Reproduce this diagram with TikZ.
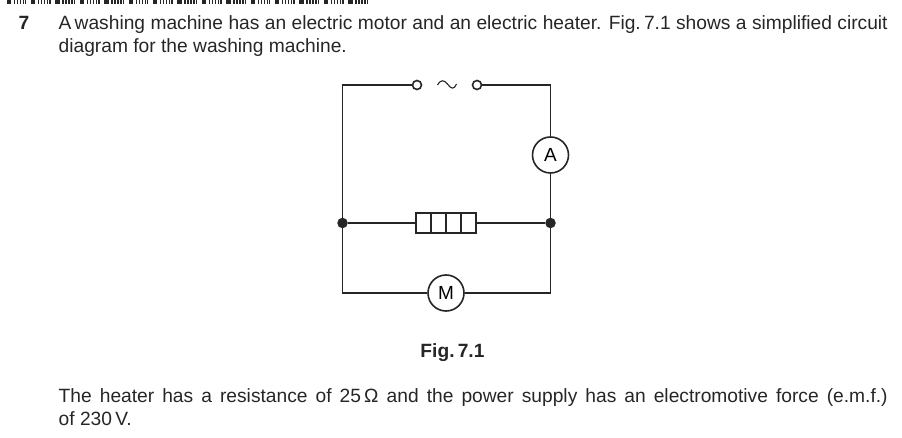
\documentclass[tikz,border=0pt]{standalone}
\usepackage{fontspec}
\setmainfont{Liberation Sans}
\tikzset{
  wire/.style={line width=1.6pt,draw=black!85},
  sym/.style={circle,draw=black!85,line width=1.6pt,minimum size=36pt,inner sep=0pt,fill=white,font=\fontsize{19}{21}\selectfont},
  term/.style={circle,draw=black!85,line width=1.6pt,minimum size=9pt,inner sep=0pt,fill=white},
  dotj/.style={circle,fill=black!85,minimum size=10.5pt,inner sep=0pt},
  res/.style={draw=black!85,line width=1.6pt,fill=white},
  body/.style={anchor=base west,inner sep=0pt,font=\fontsize{19.2}{22}\selectfont,text=black!85},
  bodyb/.style={anchor=base,inner sep=0pt,font=\fontsize{19.2}{22}\selectfont\bfseries,text=black!85},
  bar/.style={fill=black!85,draw=none}
}
\begin{document}
\begin{tikzpicture}[x=1pt,y=-1pt]
\useasboundingbox (0,0) rectangle (902,438);
\foreach \n in {0,...,14}{
  \pgfmathsetmacro{\s}{6.5+24.4*\n}
  \fill[bar] (\s,0) rectangle ({\s+4.5},4);
  \foreach \d in {7,10,13,16,18.5}{
    \fill[bar] ({\s+\d},0) rectangle ({\s+1.4+\d},4);
  }
}
\node[bodyb] (num) at (24,30) {7};
\node[body] (l1) at (58.5,30) {\hbox to 829pt{A\,washing machine has an electric motor and an electric heater. Fig.\,7.1 shows a simplified circuit}};
\node[body] (l2) at (58.5,53) {diagram for the washing machine.};
\node[bodyb] (fig) at (452.5,357) {Fig.\,7.1};
\node[body] (l3) at (58.5,402) {\hbox to 829pt{The heater has a resistance of 25\,Ω and the power supply has an electromotive force (e.m.f.)}};
\node[body] (l4) at (58.5,425) {of 230\,V.};
\coordinate (tl) at (342.5,85);
\coordinate (tr) at (550.5,85);
\coordinate (bl) at (342.5,293);
\coordinate (br) at (550.5,293);
\node[dotj] (jl) at (342.5,223) {};
\node[dotj] (jr) at (550.5,223) {};
\node[term] (t1) at (417,85) {};
\node[term] (t2) at (477,85) {};
\node[sym] (amm) at (550.5,155) {A};
\node[sym] (mot) at (446,293) {M};
\node[res,minimum width=60pt,minimum height=20pt,inner sep=0pt] (heat) at (446,223) {};
\draw[wire,line join=miter] (t1) -- (tl) -- (jl);
\draw[wire,line join=miter] (t2) -- (tr) -- (amm);
\draw[wire] (amm) -- (jr);
\draw[wire] (jl) -- (heat);
\draw[wire] (heat) -- (jr);
\draw[wire,line join=miter] (jl) -- (bl) -- (mot);
\draw[wire,line join=miter] (jr) -- (br) -- (mot);
\foreach \x in {431,446,461}{\draw[wire] (\x,213) -- (\x,233);}
\draw[line width=1.1pt,draw=black!85] (437.5,85) .. controls (441,79) and (444,80) .. (447.5,84) .. controls (451,89) and (454,90) .. (456.5,84);
\end{tikzpicture}
\end{document}
